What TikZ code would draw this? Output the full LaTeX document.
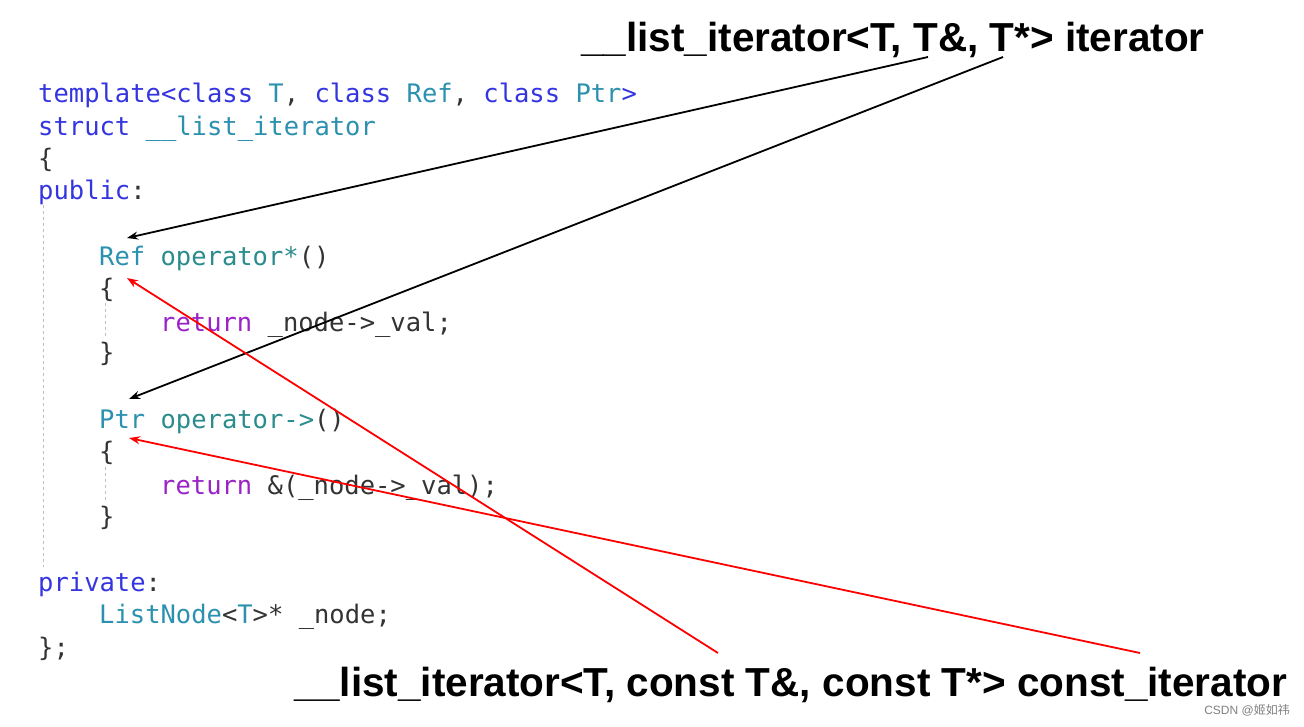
\documentclass[tikz,border=0pt]{standalone}
\usetikzlibrary{arrows.meta}
\usepackage{fontspec}
\setmainfont{Liberation Sans}
\setmonofont{DejaVu Sans Mono}
\newfontfamily\cjk{Noto Sans CJK SC}
\begin{document}
\begin{tikzpicture}[x=1pt,y=-1pt,
  code/.style={anchor=base west,inner sep=0,font=\ttfamily\fontsize{25.5}{30}\selectfont},
  lab/.style={inner sep=0,font=\bfseries\fontsize{40.5}{44}\selectfont},
  blk/.style={-{Stealth[length=11pt,width=8pt]},line width=1.8pt},
  redarr/.style={-{Stealth[length=11pt,width=8pt]},line width=1.8pt,red},
  guide/.style={gray!50,dashed,line width=0.8pt}]
\definecolor{kw}{HTML}{3535E0}
\definecolor{ty}{HTML}{2B91AF}
\definecolor{fn}{HTML}{2A8C8C}
\definecolor{rt}{HTML}{9B22C8}
\definecolor{tx}{HTML}{333333}
\useasboundingbox (0,0) rectangle (1304,727);
\fill[white] (0,0) rectangle (1304,727);
\draw[guide] (43,205) -- (43,567);
\draw[guide] (105,303) -- (105,337);
\draw[guide] (105,467) -- (105,501);
\node[code] (l1) at (38,103) {\color{kw}template<class \color{ty}T\color{tx}, \color{kw}class \color{ty}Ref\color{tx}, \color{kw}class \color{ty}Ptr\color{kw}>};
\node[code] (l2) at (38,136) {\color{kw}struct \color{ty}\_\_list\_iterator};
\node[code] (l3) at (38,168) {\color{tx}\{};
\node[code] (l4) at (38,200) {\color{kw}public\color{tx}:};
\node[code] (ref) at (99,266) {\color{ty}Ref \color{fn}operator*\color{tx}()};
\node[code] (l6) at (99,298) {\color{tx}\{};
\node[code] (l7) at (160,331) {\color{rt}return \color{tx}\_node->\_val;};
\node[code] (l8) at (99,361) {\color{tx}\}};
\node[code] (ptr) at (99,428) {\color{ty}Ptr \color{fn}operator->\color{tx}()};
\node[code] (l10) at (99,460) {\color{tx}\{};
\node[code] (l11) at (160,494) {\color{rt}return \color{tx}\&(\_node->\_val);};
\node[code] (l12) at (99,525) {\color{tx}\}};
\node[code] (l13) at (38,591) {\color{kw}private\color{tx}:};
\node[code] (l14) at (99,623) {\color{ty}ListNode\color{tx}<\color{ty}T\color{tx}>* \_node;};
\node[code] (l15) at (38,656) {\color{tx}\};};
\node[lab] (top) at (893,40) {\_\_list\_iterator<T, T\&, T*> iterator};
\node[lab] (bot) at (791,685) {\_\_list\_iterator<T, const T\&, const T*> const\_iterator};
\node[anchor=east,inner sep=0,text=gray,font=\fontsize{12}{14}\selectfont] (wm) at (1290,710) {CSDN @{\cjk 姬如祎}};
\coordinate (t1) at (928,57);
\coordinate (t2) at (1003,57);
\coordinate (b1) at (718,653);
\coordinate (b2) at (1140,653);
\coordinate (refA) at (127,238);
\coordinate (ptrA) at (129,399);
\coordinate (refB) at (127,278);
\coordinate (ptrB) at (129,438);
\draw[blk] (t1) -- (refA);
\draw[blk] (t2) -- (ptrA);
\draw[redarr] (b1) -- (refB);
\draw[redarr] (b2) -- (ptrB);
\end{tikzpicture}
\end{document}
